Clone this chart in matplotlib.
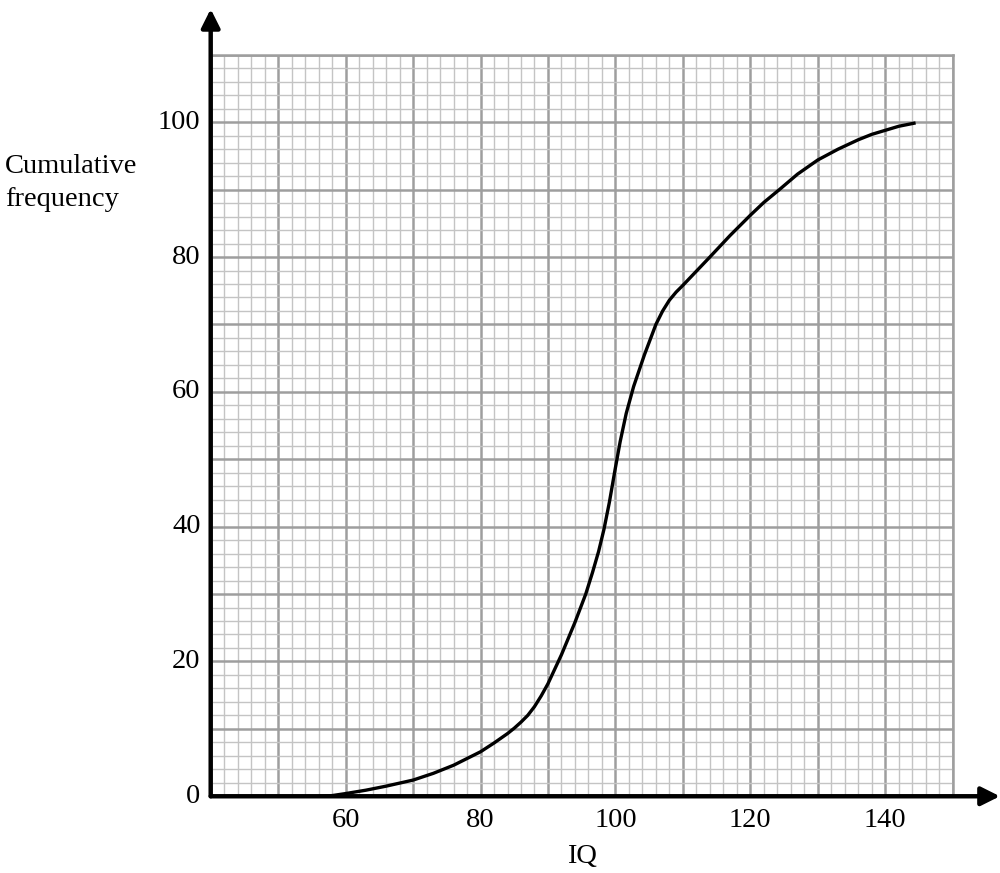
import numpy as np
import matplotlib.pyplot as plt
from matplotlib.ticker import MultipleLocator

plt.rc("font", family="Liberation Serif")
plt.rcParams.update({"font.size": 20.5})

# Cumulative frequency curve
iq = [56, 58, 60, 63, 66, 70, 73, 76, 80, 82, 84, 85, 86, 87, 88, 89, 90,
      92, 94, 95.6, 96.6, 97.5, 98.3, 99.1, 99.9, 100.7, 101.6, 102.7,
      104.3, 106, 107, 108, 109, 110, 112, 114, 117, 120, 122, 124.3, 127,
      130, 133, 136, 138, 140, 142, 144.5]
cf = [0, 0.1, 0.4, 0.9, 1.5, 2.4, 3.4, 4.6, 6.6, 7.9, 9.3, 10.1, 11, 12,
      13.3, 14.9, 16.7, 21, 25.8, 30, 33.2, 36.3, 39.6, 43.6, 48.2, 52.6,
      56.8, 60.8, 65.5, 70, 72, 73.6, 74.8, 75.8, 77.9, 80, 83.2, 86.2,
      88.1, 90, 92.3, 94.4, 96, 97.4, 98.2, 98.8, 99.4, 99.9]

x_ticks = [60, 80, 100, 120, 140]
y_ticks = [0, 20, 40, 60, 80, 100]

fig = plt.figure(figsize=(10, 8.73), dpi=100)
ax = fig.add_axes([0.2107, 0.0879, 0.742, 0.8493])

ax.set_xlim(40, 150)
ax.set_ylim(0, 110)

# graph paper: heavy line every 10, light line every 2
ax.xaxis.set_major_locator(MultipleLocator(10))
ax.yaxis.set_major_locator(MultipleLocator(10))
ax.xaxis.set_minor_locator(MultipleLocator(2))
ax.yaxis.set_minor_locator(MultipleLocator(2))
ax.grid(which="minor", color="#c4c4c4", lw=1.0)
ax.grid(which="major", color="#9e9e9e", lw=1.8)
ax.set_axisbelow(True)
ax.set_xticklabels([])
ax.set_yticklabels([])
ax.tick_params(which="both", length=0)

# labels only every 20
for t in x_ticks:
    ax.text(t, -1.8, str(t), ha="center", va="top")
for t in y_ticks:
    ax.text(38.5, t, str(t), ha="right", va="center")

ax.plot(iq, cf, color="black", lw=2.4, solid_capstyle="butt",
        solid_joinstyle="round", zorder=3)

for side in ["left", "bottom"]:
    ax.spines[side].set_visible(False)
for side in ["top", "right"]:
    ax.spines[side].set_color("#9e9e9e")
    ax.spines[side].set_linewidth(1.8)

# axes with arrows
ax.annotate("", xy=(157, 0), xytext=(40, 0), annotation_clip=False,
            arrowprops=dict(arrowstyle="-|>", lw=3.2, color="black",
                            mutation_scale=28, shrinkA=0, shrinkB=0))
ax.annotate("", xy=(40, 116.8), xytext=(40, 0), annotation_clip=False,
            arrowprops=dict(arrowstyle="-|>", lw=3.2, color="black",
                            mutation_scale=28, shrinkA=0, shrinkB=0))

fig.text(0.005, 0.809, "Cumulative", ha="left", va="center")
fig.text(0.005, 0.772, "frequency", ha="left", va="center")
fig.text(0.582, 0.019, "IQ", ha="center", va="center")

fig.savefig("out.png", dpi=100)
